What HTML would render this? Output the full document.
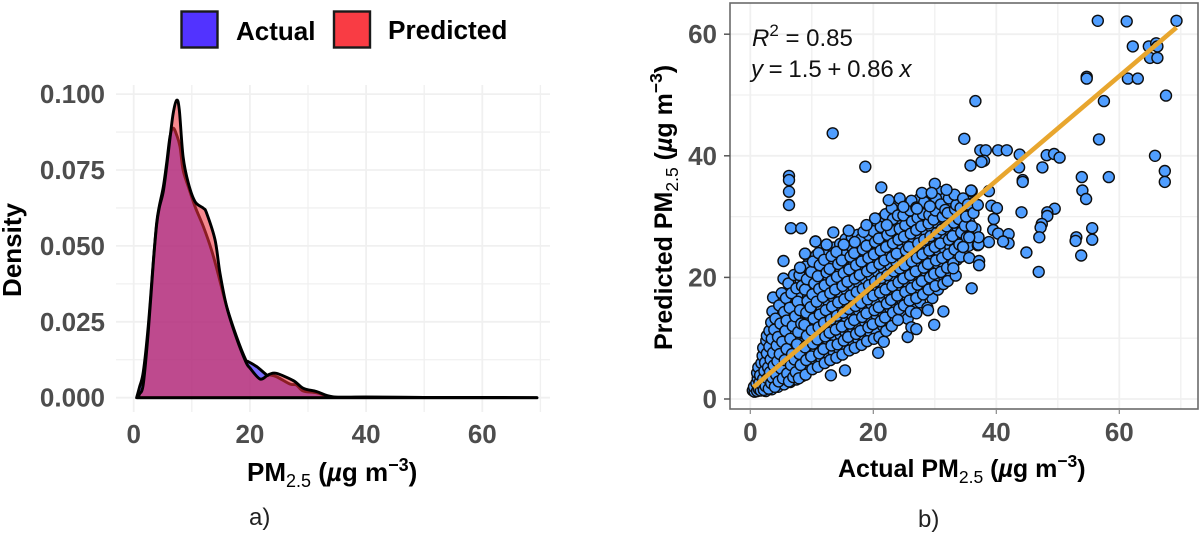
<!DOCTYPE html>
<html>
<head>
<meta charset="utf-8">
<style>
html,body{margin:0;padding:0;background:#fff;width:1200px;height:533px;overflow:hidden}
svg{display:block;font-family:"Liberation Sans",sans-serif}
.tick{font-weight:bold;font-size:26px;fill:#4d4d4d}
.title{font-weight:bold;font-size:26px;fill:#000}
</style>
</head>
<body>
<svg id="figure" width="1200" height="533" viewBox="0 0 1200 533" xmlns="http://www.w3.org/2000/svg">
  <g id="density-panel"></g>
  <g id="scatter-panel"></g>

  <g>
    <rect x="181.5" y="11.5" width="36" height="36" fill="#5233ff" stroke="#1a1a1a" stroke-width="2.4"/>
    <text x="236" y="40" font-size="26" font-weight="bold" fill="#000">Actual</text>
    <rect x="334" y="11.5" width="36" height="36" fill="#f93c44" stroke="#1a1a1a" stroke-width="2.4"/>
    <text x="388" y="39" font-size="26.2" font-weight="bold" fill="#000">Predicted</text>
  </g>

  <text class="title" transform="translate(21,250) rotate(-90)" text-anchor="middle">Density</text>
  <text class="title" x="247" y="481">PM<tspan font-weight="normal" font-size="18" dy="6">2.5</tspan><tspan dy="-6"> (</tspan><tspan font-style="italic">µ</tspan><tspan>g m</tspan><tspan font-size="18" dy="-10">−3</tspan><tspan dy="10">)</tspan></text>
  <text x="249" y="525" font-size="24" fill="#222">a)</text>

  <text class="title" x="838" y="477" style="font-size:25px">Actual PM<tspan font-weight="normal" font-size="17.5" dy="6">2.5</tspan><tspan dy="-6"> (</tspan><tspan font-style="italic">µ</tspan><tspan>g m</tspan><tspan font-size="17.5" dy="-10">−3</tspan><tspan dy="10">)</tspan></text>
  <text class="title" transform="translate(672,350) rotate(-90)" style="font-size:25px">Predicted PM<tspan font-weight="normal" font-size="17.5" dy="6">2.5</tspan><tspan dy="-6"> (</tspan><tspan font-style="italic">µ</tspan><tspan>g m</tspan><tspan font-size="17.5" dy="-10">−3</tspan><tspan dy="10">)</tspan></text>
  <text x="918" y="527" font-size="24" fill="#222">b)</text>

  <g id="annotation"></g>
</svg>

<script>
// ---------- density chart data ----------
const actualX = [0.5,1,1.65,2.5,3.4,3.95,4.4,5.1,5.7,6.25,6.8,7.4,7.97,8.5,9.4,10.55,12,13.4,14.5,16,17.7,19.3,19.7,21.2,22.9,23.4,24.6,26.9,28,29.2,31.5,34.3,40,50,60,69.4];
const actualDensity = [0,0.0035,0.0085,0.0235,0.0454,0.0575,0.063,0.0695,0.0777,0.086,0.0888,0.0865,0.0827,0.075,0.0695,0.063,0.0563,0.0486,0.041,0.03,0.0201,0.0124,0.0119,0.0102,0.0075,0.0075,0.0069,0.0045,0.0042,0.0022,0.0016,0.0002,0.0002,0.0001,0.0001,0];
const predictedX = [0.7,1,1.65,2.5,3.4,3.95,4.4,5.1,5.7,6.25,6.8,7.4,7.85,8.5,9.4,10.55,12,12.55,14,14.85,16,17.7,19.3,20,21.7,22.9,23.5,24.6,27.5,29.2,31.5,34.3,40,50,60,69.4];
const predictedDensity = [0,0.0012,0.0045,0.0215,0.045,0.057,0.0625,0.068,0.0765,0.0855,0.0937,0.098,0.0948,0.0794,0.0707,0.0646,0.0624,0.0608,0.052,0.041,0.03,0.0196,0.0118,0.0098,0.0062,0.0072,0.0078,0.008,0.0056,0.0031,0.002,0.0003,0.0002,0.0001,0.0001,0];
const densityXTicks = [0,20,40,60];
const densityXMinor = [10,30,50,70];
const densityYTicks = ["0.000","0.025","0.050","0.075","0.100"];
const densityYMinor = [0.0125,0.0375,0.0625,0.0875];

// ---------- scatter chart data ----------
const scatterXTicks = [0,20,40,60];
const scatterXMinor = [10,30,50,70];
const scatterYTicks = [0,20,40,60];
const scatterYMinor = [10,30,50];
const regressionIntercept = 1.5;
const regressionSlope = 0.86;
const regressionRange = [0.5,69.3];

const infillPoints = [
[2.5,1.3],[3.5,1.6],[4.5,2.0],[5.5,2.4],[6.5,2.8],[7.5,3.2],[8.5,3.8],
[1.5,4.8],[2.4,3.0],[2.6,5.3],[3.0,6.0],[3.0,9.5],[3.9,3.0],[3.9,7.0],[4.1,9.8],[4.3,5.0],[4.4,11.5],[4.4,14.0],[4.9,3.6],[5.0,8.5],[5.0,6.0],[5.2,10.8],[5.3,13.4],[5.4,16.0],[5.6,4.0],[5.8,10.0],[6.0,6.8],[6.1,14.0],[6.3,11.6],[6.4,8.6],[6.5,4.4],[6.6,16.4],[6.8,13.3],[7.0,10.4],[7.0,5.0],[7.1,15.2],[7.1,8.2],[7.2,17.4],[7.5,12.2],[7.6,5.6],[7.9,9.8],[8.0,16.9],[8.2,19.4],[8.4,4.2],[8.4,8.6],[8.5,10.8],[8.5,13.6],[8.6,15.8],
[9.6,5.2],[9.4,7.6],[9.7,9.5],[9.5,11.3],[9.3,13.2],[9.6,15.1],[9.4,17.0],[9.7,18.9],[9.5,20.8],[9.6,22.7],
[10.5,6.0],[10.7,8.1],[10.4,10.2],[10.6,12.3],[10.8,14.2],[10.5,16.2],[10.3,18.2],[10.7,20.1],[10.5,21.8],[10.7,23.6],
[11.6,6.5],[11.4,8.7],[11.7,10.8],[11.5,12.9],[11.6,15.0],[11.4,17.0],[11.7,19.2],[11.5,21.3],[11.8,23.1],[11.6,24.8],
[12.5,7.1],[12.7,9.3],[12.4,11.6],[12.6,13.7],[12.8,15.8],[12.6,17.9],[12.7,20.0],[12.5,22.0],[12.7,24.3],
[13.6,7.7],[13.5,9.9],[13.7,12.1],[13.4,14.4],[13.6,16.6],[13.5,18.6],[13.7,20.7],[13.6,22.7],[13.5,24.9],
[14.5,8.1],[14.7,10.5],[14.4,12.8],[14.6,15.0],[14.8,17.2],[14.5,19.3],[14.7,21.4],[14.5,23.4],[14.6,25.5],
[15.6,8.7],[15.5,11.0],[15.7,13.3],[15.5,15.6],[15.7,17.8],[15.4,20.0],[15.6,22.1],[15.7,24.2],[15.5,26.3],
[16.5,9.2],[16.7,11.6],[16.5,13.9],[16.6,16.1],[16.8,18.4],[16.5,20.6],[16.7,22.8],[16.6,24.8],[16.5,26.6],
[17.6,9.7],[17.5,12.1],[17.7,14.4],[17.5,16.7],[17.7,19.0],[17.4,21.2],[17.6,23.4],[17.7,25.3],[17.5,27.0],
[18.5,10.2],[18.7,12.6],[18.5,15.0],[18.6,17.3],[18.8,19.6],[18.5,21.8],[18.7,23.9],[18.5,25.9],[18.7,27.6],
[19.6,10.8],[19.5,13.2],[19.7,15.6],[19.5,17.9],[19.7,20.2],[19.4,22.4],[19.6,24.6],[19.7,26.4],[19.5,28.2],
[20.5,11.2],[20.6,13.6],[20.4,16.1],[20.6,18.4],[20.8,20.8],[20.5,23.1],[20.7,25.2],[20.5,27.2],[20.7,29.0],
[21.6,12.0],[21.5,14.3],[21.7,16.7],[21.5,18.9],[21.7,21.4],[21.4,23.7],[21.6,25.9],[21.7,27.9],[21.5,29.8],
[22.5,12.8],[22.7,15.0],[22.5,17.3],[22.6,19.6],[22.8,21.9],[22.5,24.4],[22.7,26.5],[22.5,28.7],[22.7,30.7],
[23.6,13.4],[23.5,15.7],[23.7,17.9],[23.5,20.1],[23.7,22.6],[23.4,24.9],[23.6,27.0],[23.7,29.1],[23.5,31.2],[23.7,32.2],
[24.5,14.2],[24.7,16.3],[24.5,18.6],[24.6,20.8],[24.8,23.1],[24.5,25.4],[24.7,27.6],[24.5,29.3],[24.6,31.0],
[25.6,13.2],[25.5,16.9],[25.7,19.0],[25.5,21.3],[25.7,23.6],[25.4,26.0],[25.6,28.1],[25.7,30.1],[25.5,31.8],
[26.5,15.4],[26.7,17.6],[26.5,19.8],[26.6,21.9],[26.8,24.4],[26.5,26.5],[26.7,28.7],[26.5,30.5],[26.7,32.2],
[27.6,15.9],[27.5,18.2],[27.7,20.4],[27.5,22.7],[27.7,25.0],[27.4,27.1],[27.6,29.3],[27.7,31.0],[27.5,32.9],
[28.5,17.4],[28.7,18.8],[28.5,21.0],[28.6,23.2],[28.8,25.5],[28.5,27.7],[28.7,29.7],[28.5,31.4],[28.7,33.1],
[29.6,16.6],[29.5,19.4],[29.7,21.7],[29.5,23.9],[29.7,26.2],[29.4,28.3],[29.6,30.2],[29.7,32.2],
[30.5,18.0],[30.7,20.0],[30.5,22.2],[30.6,24.4],[30.8,26.6],[30.5,28.8],[30.7,30.8],[30.5,32.6],[30.7,34.1],
[31.6,19.8],[31.5,22.0],[31.7,24.5],[31.5,26.8],[31.7,29.2],[31.4,31.6],[31.6,33.0],
[32.5,20.8],[32.7,22.9],[32.5,25.1],[32.6,27.5],[32.8,29.7],[32.5,31.8],[32.7,33.4],
[33.6,22.9],[33.5,25.6],[33.7,28.2],[33.5,30.3],[33.7,32.6],
[34.5,26.2],[34.4,28.8],[34.6,30.8],[34.5,32.2],[34.8,26.9],
[35.6,29.1],[35.3,31.0],[35.7,33.0],[36.4,26.2],[36.6,28.0],[36.2,32.2]
];

const cloudPoints = [
[0.4,1.4],[0.7,1.2],[0.9,1.8],[0.6,2.0],[1.1,1.3],[1.0,2.6],[1.2,3.4],[1.4,1.6],[1.1,4.3],[1.5,2.7],[1.3,5.2],[1.6,3.9],[1.7,1.4],[1.8,5.9],[1.9,2.3],
[2.0,7.1],[2.1,3.3],[2.2,1.5],[2.3,4.6],[2.1,8.4],[2.4,6.0],[2.5,2.1],[2.6,9.6],[2.7,7.5],[2.8,3.4],[2.9,5.2],[2.7,10.4],[3.0,1.7],
[3.1,8.6],[3.2,4.4],[3.3,6.5],[3.1,11.2],[3.4,2.6],[3.5,9.9],[3.6,3.5],[3.4,12.6],[3.7,7.6],[3.6,14.4],[3.8,5.5],[3.7,16.7],[3.9,11.4],[4.0,2.0],
[4.1,13.2],[4.2,4.0],[4.3,8.8],[4.4,6.2],[4.5,10.2],[4.6,2.9],[4.7,15.4],[4.8,7.4],[4.9,12.4],[5.0,5.0],
[5.1,17.4],[5.2,9.4],[5.3,3.4],[5.4,19.8],[5.5,14.3],[5.6,6.4],[5.7,11.2],[5.8,16.6],[5.9,8.2],[6.0,4.2],[5.9,12.9],
[6.2,19.0],[6.3,2.9],[6.4,15.0],[6.5,9.9],[6.6,5.6],[6.7,17.4],[6.8,7.4],[6.9,12.0],[7.0,3.6],[7.1,20.4],
[7.2,6.5],[7.3,13.6],[7.4,4.4],[7.5,18.2],[7.6,9.0],[7.7,16.0],[7.8,11.0],[7.9,3.4],[8.0,20.4],[8.0,7.4],[8.1,14.6],[8.2,5.6],[8.3,12.4],[8.4,18.6],[8.1,21.6],
[9.0,4.0],[9.1,6.4],[8.9,8.5],[9.2,10.4],[8.8,12.2],[9.1,14.2],[9.3,16.1],[8.9,18.0],[9.2,19.7],[9.0,21.8],[8.9,23.9],
[10.1,4.9],[9.9,7.0],[10.2,9.1],[10.0,11.3],[10.3,13.2],[9.8,15.1],[10.1,17.2],[10.4,19.0],[9.9,20.9],[10.2,22.6],[10.6,25.9],
[11.0,5.3],[11.2,7.5],[10.9,9.8],[11.1,11.8],[11.3,13.9],[10.8,16.0],[11.2,18.1],[11.0,20.2],[11.3,22.0],[11.1,24.0],
[12.1,5.9],[11.9,8.2],[12.2,10.3],[12.0,12.5],[12.3,14.6],[11.8,16.8],[12.1,18.7],[12.4,20.8],[12.0,22.9],[12.4,25.4],
[13.1,3.9],[13.0,6.4],[13.2,8.8],[12.9,10.9],[13.1,13.1],[13.3,15.2],[13.0,17.4],[13.2,19.4],[12.9,21.4],[13.2,23.5],
[14.0,6.8],[14.2,9.0],[13.9,11.4],[14.1,13.7],[14.3,15.9],[13.8,18.0],[14.1,20.1],[14.3,22.2],[14.0,24.2],
[15.4,4.7],[15.0,7.3],[15.2,9.6],[14.9,11.9],[15.1,14.2],[15.3,16.4],[15.0,18.6],[15.2,20.7],[14.9,22.8],[15.2,25.4],
[16.1,8.0],[15.9,10.2],[16.2,12.4],[16.0,14.8],[16.3,17.0],[15.8,19.3],[16.1,21.3],[16.3,23.4],[16.4,25.2],
[17.0,8.4],[17.2,10.7],[16.9,13.0],[17.1,15.3],[17.3,17.6],[17.0,19.8],[17.2,22.0],[16.9,24.0],[17.0,25.8],
[18.1,8.9],[17.9,11.2],[18.2,13.5],[18.0,15.8],[18.3,18.1],[17.8,20.4],[18.1,22.6],[18.3,24.6],[18.0,26.3],
[19.0,9.5],[19.2,11.8],[18.9,14.1],[19.1,16.4],[19.3,18.7],[19.0,21.0],[19.2,23.2],[18.9,25.2],[19.2,27.0],
[20.1,9.9],[19.9,12.3],[20.2,14.6],[20.0,17.0],[20.3,19.3],[19.8,21.6],[20.1,23.8],[20.3,25.8],[20.0,27.6],
[20.8,7.6],[21.0,10.2],[21.2,12.8],[20.9,15.1],[21.1,17.5],[21.3,19.9],[21.0,22.2],[21.2,24.4],[20.9,26.4],[21.2,28.3],
[21.7,9.4],[22.1,11.2],[21.9,13.4],[22.2,15.7],[22.0,18.0],[22.3,20.4],[21.8,22.8],[22.1,25.0],[22.3,27.0],[22.0,30.4],
[23.0,12.0],[23.2,14.2],[22.9,16.3],[23.1,18.6],[23.3,21.0],[23.0,23.3],[23.2,25.6],[22.9,27.7],[23.2,29.6],[23.0,31.4],
[24.0,13.0],[24.2,14.8],[23.9,17.0],[24.1,19.2],[24.3,21.5],[23.8,23.9],[24.1,26.2],[24.3,28.0],[24.0,30.2],
[25.6,10.2],[25.0,15.4],[25.2,17.6],[24.9,19.8],[25.1,22.0],[25.3,24.4],[25.0,26.7],[25.2,28.6],[24.9,30.2],
[26.2,11.8],[26.1,14.4],[25.9,16.2],[26.2,18.2],[26.0,20.4],[26.3,22.6],[25.8,25.0],[26.1,27.2],[26.3,29.2],[26.0,31.0],[26.2,32.6],
[27.0,11.5],[27.0,14.1],[27.0,16.6],[27.2,18.8],[26.9,21.0],[27.1,23.2],[27.3,25.6],[27.0,27.8],[27.2,29.8],[27.0,31.5],
[28.1,17.2],[27.9,19.4],[28.2,21.6],[28.0,23.8],[28.3,26.2],[27.8,28.4],[28.1,30.4],[28.3,32.4],
[28.8,15.0],[28.9,14.6],[29.9,12.2],[29.0,18.0],[29.2,20.0],[28.9,22.2],[29.1,24.4],[29.3,26.8],[29.0,28.9],[29.1,30.3],
[30.1,18.6],[29.9,20.6],[30.2,22.8],[30.0,25.0],[30.3,27.3],[29.8,29.5],[30.1,31.0],[30.2,33.0],
[31.4,14.4],[31.4,18.9],[31.0,20.9],[31.2,23.2],[30.9,25.6],[31.1,27.9],[31.3,30.0],[31.0,32.0],[31.7,31.1],
[32.1,19.4],[32.0,21.6],[32.2,23.8],[32.3,26.2],[31.9,28.4],[32.1,30.6],[32.3,33.0],
[33.4,20.3],[33.0,22.3],[33.2,24.6],[32.9,26.8],[33.1,29.0],[33.3,31.2],[33.5,31.9],[33.2,33.6],
[34.2,23.4],[34.0,25.4],[34.3,27.4],[33.9,29.6],[34.2,31.4],[34.9,28.5],[34.6,33.0],[34.6,25.0],
[35.2,26.6],[35.5,25.2],[35.7,26.7],[35.1,30.0],[35.4,32.0],[36.0,28.4],[36.3,30.6],[37.0,31.9],[37.0,25.3],[36.0,18.2]
];

const outlierPoints = [
[56.5,62.2],[61.2,62.1],[69.3,62.2],[62.2,58.0],[64.8,58.0],[66.0,58.5],[66.2,58.0],[65.0,56.1],[66.2,56.1],[54.7,53.0],[54.7,52.7],[61.4,52.7],[63.0,52.7],[57.5,49.0],[67.6,49.9],[36.6,49.0],[56.7,42.7],[34.8,42.8],[65.8,40.0],[67.4,37.5],[67.4,35.7],[58.3,36.5],[53.9,36.5],[54.0,34.3],[54.6,32.9],
[37.4,40.9],[38.3,40.9],[40.3,40.9],[41.7,40.9],[43.8,40.2],[48.2,40.1],[49.4,40.3],[50.3,39.7],[38.0,39.2],[37.6,39.0],[35.8,38.4],[43.7,38.1],[47.5,38.1],[44.3,36.0],[44.3,35.7],[38.8,34.2],[36.0,34.2],[39.2,31.8],[40.1,31.4],[39.6,29.6],[44.1,30.7],[49.5,31.3],[48.3,30.7],[48.3,30.1],[47.4,28.8],[47.2,28.2],[47.0,26.6],[55.6,28.1],[55.6,26.2],[53.0,26.6],[52.9,26.0],[53.8,23.6],[44.9,24.1],[46.9,20.9],[39.5,27.8],[40.3,27.2],[42.0,27.1],[42.0,25.6],[41.1,25.9],[38.8,25.8],[37.1,25.4],[37.1,26.6],[35.6,26.6],[35.6,23.2],[37.2,22.7],[37.2,22.0],[34.6,25.0],[33.0,21.5],
[13.4,43.7],[18.7,38.2],[6.3,36.7],[6.3,36.0],[6.3,34.1],[6.3,31.9],[6.6,28.1],[8.3,28.1],[21.3,34.8],[13.5,27.4],[16.0,27.7],[10.6,25.9],[12.4,25.4],[15.2,25.4],[5.4,22.7],[8.9,23.9],[8.1,21.6],[30.0,35.4],[22.5,32.7],[24.3,33.0],[27.9,33.9],[29.5,33.9],[18.4,27.5],[18.9,28.6],[20.3,29.7],[22.2,28.6],[24.9,31.6],[27.1,31.3],[17.0,25.8],[29.2,31.7],[31.9,34.4],[35.9,34.3]
];

// ---------- axis functions ----------
const densityPx = v => 133.7 + v * 5.81;
const densityPy = v => 397.7 - v * 3036;
const scatterPx = v => 750.3 + v * 6.15;
const scatterPy = v => 399 - v * 6.08;

const NS = "http://www.w3.org/2000/svg";
function make(tag, parent, attrs, text) {
  const el = document.createElementNS(NS, tag);
  for (const k in attrs) el.setAttribute(k, attrs[k]);
  if (text !== undefined) el.textContent = text;
  parent.appendChild(el);
  return el;
}
function smoothPath(px, py) {
  let d = "M" + px[0].toFixed(2) + " " + py[0].toFixed(2);
  for (let i = 0; i < px.length - 1; i++) {
    const i0 = Math.max(i - 1, 0), i3 = Math.min(i + 2, px.length - 1);
    const c1x = px[i] + (px[i + 1] - px[i0]) / 6, c1y = py[i] + (py[i + 1] - py[i0]) / 6;
    const c2x = px[i + 1] - (px[i3] - px[i]) / 6, c2y = py[i + 1] - (py[i3] - py[i]) / 6;
    d += "C" + c1x.toFixed(2) + " " + c1y.toFixed(2) + " " + c2x.toFixed(2) + " " + c2y.toFixed(2) + " " + px[i + 1].toFixed(2) + " " + py[i + 1].toFixed(2);
  }
  return d;
}

// ---------- density panel ----------
const dp = document.getElementById("density-panel");
const dGrid = make("g", dp, {stroke: "#f0f0f0", fill: "none"});


densityYMinor.forEach(v => make("line", dGrid, {x1: 116, x2: 550, y1: densityPy(v), y2: densityPy(v), "stroke-width": 1.3}));
densityYTicks.forEach(v => make("line", dGrid, {x1: 116, x2: 550, y1: densityPy(+v), y2: densityPy(+v), "stroke-width": 1.8}));
densityXMinor.forEach(v => make("line", dGrid, {y1: 85, y2: 412, x1: densityPx(v), x2: densityPx(v), "stroke-width": 1.3}));
densityXTicks.forEach(v => make("line", dGrid, {y1: 85, y2: 412, x1: densityPx(v), x2: densityPx(v), "stroke-width": 1.8}));

function densityArea(xs, ys, fill, name) {
  const px = xs.map(densityPx), py = ys.map(densityPy);
  const d = smoothPath(px, py) + "Z";
  const el = make("path", dp, {d: d, fill: fill, stroke: "#000", "stroke-width": 2.9, "stroke-linejoin": "round"});
  
  
}
densityArea(actualX, actualDensity, "rgba(50,30,255,0.65)", "density-actual");
densityArea(predictedX, predictedDensity, "rgba(240,50,60,0.58)", "density-predicted");

densityXTicks.forEach(v => {
  const t = make("text", dp, {class: "tick", x: densityPx(v), y: 443, "text-anchor": "middle"}, String(v));
  
  
});
densityYTicks.forEach(v => {
  const t = make("text", dp, {class: "tick", x: 105, y: densityPy(+v) + 9, "text-anchor": "end"}, v);
  
  
});

// ---------- scatter panel ----------
const sp = document.getElementById("scatter-panel");
const L = 730, R = 1198, T = 3, B = 409;
const sGrid = make("g", sp, {stroke: "#f0f0f0", fill: "none"});


scatterYMinor.forEach(v => make("line", sGrid, {x1: L, x2: R, y1: scatterPy(v), y2: scatterPy(v), "stroke-width": 1.3}));
scatterYTicks.forEach(v => make("line", sGrid, {x1: L, x2: R, y1: scatterPy(v), y2: scatterPy(v), "stroke-width": 1.8}));
scatterXMinor.forEach(v => make("line", sGrid, {y1: T, y2: B, x1: scatterPx(v), x2: scatterPx(v), "stroke-width": 1.3}));
scatterXTicks.forEach(v => make("line", sGrid, {y1: T, y2: B, x1: scatterPx(v), x2: scatterPx(v), "stroke-width": 1.8}));

const pts = make("g", sp, {fill: "#509eff", stroke: "#0d0d0d", "stroke-width": 1.4});


infillPoints.concat(cloudPoints, outlierPoints).forEach(p => {
  const c = make("circle", pts, {cx: scatterPx(p[0]).toFixed(1), cy: scatterPy(p[1]).toFixed(1), r: 5.5});
  
  
});

const fit = make("line", sp, {
  x1: scatterPx(regressionRange[0]),
  y1: scatterPy(regressionIntercept + regressionSlope * regressionRange[0]),
  x2: scatterPx(regressionRange[1]),
  y2: scatterPy(regressionIntercept + regressionSlope * regressionRange[1]),
  stroke: "#e8a62e", "stroke-width": 4.6
});



const frame = make("rect", sp, {x: L, y: T, width: R - L, height: B - T, fill: "none", stroke: "#6a6a6a", "stroke-width": 1.6});



scatterYTicks.forEach(v => {
  const m = make("line", sp, {x1: L - 6, x2: L, y1: scatterPy(v), y2: scatterPy(v), stroke: "#555", "stroke-width": 1.5});
  
  
  const t = make("text", sp, {class: "tick", x: 717, y: scatterPy(v) + 9, "text-anchor": "end"}, String(v));
  
  
});
scatterXTicks.forEach(v => {
  const m = make("line", sp, {y1: B, y2: B + 5, x1: scatterPx(v), x2: scatterPx(v), stroke: "#888", "stroke-width": 1.2});
  
  
  const t = make("text", sp, {class: "tick", x: scatterPx(v), y: 441, "text-anchor": "middle"}, String(v));
  
  
});

// ---------- annotation ----------
document.getElementById("annotation").innerHTML =
  '<text x="752" y="46" font-size="24" fill="#111"><tspan font-style="italic">R</tspan><tspan font-size="17" dy="-10">2</tspan><tspan dy="10"> = 0.85</tspan></text>' +
  '<text x="751" y="77" font-size="24" fill="#111" word-spacing="-1"><tspan font-style="italic">y</tspan> = 1.5 + 0.86 <tspan font-style="italic">x</tspan></text>';
</script>
</body>
</html>
